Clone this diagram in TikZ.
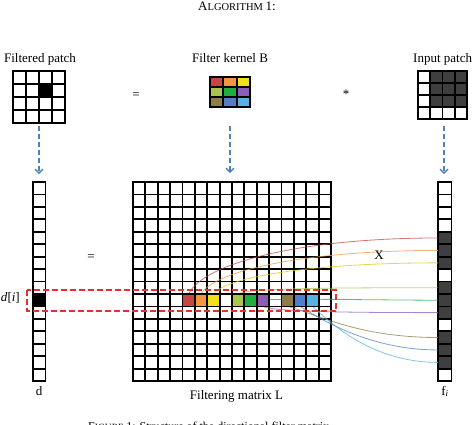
\documentclass[tikz,border=0pt]{standalone}
\usepackage{fontspec}
\setmainfont{Liberation Serif}
\usetikzlibrary{arrows.meta}
\definecolor{kred}{HTML}{C4483F}
\definecolor{korange}{HTML}{F4963F}
\definecolor{kyellow}{HTML}{F2E01A}
\definecolor{kyg}{HTML}{A9C64A}
\definecolor{kgreen}{HTML}{22AE3C}
\definecolor{kpurple}{HTML}{8E5DB8}
\definecolor{kolive}{HTML}{8E7E44}
\definecolor{kblue}{HTML}{4F7FCB}
\definecolor{klblue}{HTML}{52B2E2}
\definecolor{arrblue}{HTML}{4F81BD}
\definecolor{dashred}{HTML}{E3312B}
\definecolor{darkcell}{HTML}{3F3F3F}
\begin{document}
\begin{tikzpicture}[x=1pt,y=-1pt,
  cell/.style={draw=black, line width=1.8pt, inner sep=0pt, outer sep=0pt, rectangle},
  lbl/.style={font=\fontsize{13}{14}\selectfont, inner sep=0pt},
  arr/.style={draw=arrblue, line width=1.4pt, dash pattern=on 5pt off 3pt, -{Straight Barb[length=4pt,width=8pt]}},
  lk/.style={line width=0.8pt, opacity=0.75},
  reddash/.style={draw=dashred, line width=2pt, dash pattern=on 6pt off 3pt}]
\useasboundingbox (0,0) rectangle (474,424);

% title
\node[anchor=base, inner sep=0pt] (title) at (237,10) {\fontsize{13}{13}\selectfont A\fontsize{10.5}{11}\selectfont LGORITHM \fontsize{13}{13}\selectfont 1:};

% labels top
\node[lbl, anchor=base] (lfp) at (40,62.5) {Filtered patch};
\node[lbl, anchor=base] (lfk) at (230,62.5) {Filter kernel B};
\node[lbl, anchor=base west] (lip) at (413,62.5) {Input patch};
\node[lbl] (eq1) at (136,96) {=};
\node[lbl] (star) at (346,94) {*};

% filtered patch
\foreach \r in {0,...,3}{\foreach \c in {0,...,3}{
  \ifnum\r=1 \ifnum\c=2 \def\fc{black}\else\def\fc{white}\fi\else\def\fc{white}\fi
  \node[cell, fill=\fc, minimum width=13pt, minimum height=13pt] (fp-\r-\c) at ({19.5+13*\c},{77.5+13*\r}) {};
}}

% kernel
\foreach \r/\c/\col in {0/0/kred,0/1/korange,0/2/kyellow,1/0/kyg,1/1/kgreen,1/2/kpurple,2/0/kolive,2/1/kblue,2/2/klblue}{
  \node[cell, fill=\col, minimum width=13.33pt, minimum height=10pt] (kb-\r-\c) at ({216.67+13.33*\c},{82+10*\r}) {};
}

% input patch
\foreach \r in {0,...,3}{\foreach \c in {0,...,3}{
  \def\fc{white}
  \ifnum\c>0 \ifnum\r<3 \def\fc{darkcell}\fi\fi
  \node[cell, fill=\fc, minimum width=12.25pt, minimum height=12pt] (ip-\r-\c) at ({424.1+12.25*\c},{77+12*\r}) {};
}}

% arrows
\coordinate (a1s) at (39,126); \coordinate (a1e) at (39,174);
\coordinate (a2s) at (230,126); \coordinate (a2e) at (230,173);
\coordinate (a3s) at (444,126); \coordinate (a3e) at (444,174);
\draw[arr] (a1s) -- (a1e);
\draw[arr] (a2s) -- (a2e);
\draw[arr] (a3s) -- (a3e);

% vector d
\foreach \r in {0,...,15}{
  \ifnum\r=9 \def\fc{black}\else\def\fc{white}\fi
  \node[cell, fill=\fc, minimum width=12.5pt, minimum height=12.44pt] (d-\r) at (39.25,{188.22+12.44*\r}) {};
}

% matrix L
\foreach \r in {0,...,15}{\foreach \c in {0,...,15}{
  \node[cell, minimum width=12.375pt, minimum height=12.44pt] (L-\r-\c) at ({139.19+12.375*\c},{188.22+12.44*\r}) {};
}}

% vector f
\foreach \r in {0,...,15}{
  \pgfmathtruncatemacro\m{mod(\r,4)}
  \def\fc{white}
  \ifnum\r>3 \ifnum\m<3 \def\fc{darkcell}\fi\fi
  \node[cell, fill=\fc, minimum width=13.5pt, minimum height=12.44pt] (f-\r) at (444.75,{188.22+12.44*\r}) {};
}

% connecting curves
\draw[lk, kred] (L-9-4.north) .. controls +(14,-30) and +(-140,0) .. (f-4.west);
\draw[lk, korange] (L-9-5.north) .. controls +(14,-24) and +(-130,0) .. (f-5.west);
\draw[lk, kyellow!90!black] (L-9-6.north) .. controls +(14,-18) and +(-120,0) .. (f-6.west);
\draw[lk, kyg] (L-9-8.north) .. controls +(10,-6) and +(-100,0) .. (f-8.west);
\draw[lk, kgreen] (L-9-9.center) .. controls +(40,-2) and +(-60,0) .. (f-9.west);
\draw[lk, kpurple] (L-9-10.south) .. controls +(10,5) and +(-100,0) .. (f-10.west);
\draw[lk, kolive] (L-9-12.south) .. controls +(30,8) and +(-80,0) .. (f-12.west);
\draw[lk, kblue] (L-9-13.south) .. controls +(20,12) and +(-70,0) .. (f-13.west);
\draw[lk, klblue] (L-9-14.south) .. controls +(14,12) and +(-70,0) .. (f-14.west);

% coloured row cells
\foreach \c/\col in {4/kred,5/korange,6/kyellow,8/kyg,9/kgreen,10/kpurple,12/kolive,13/kblue,14/klblue}{
  \node[cell, fill=\col, minimum width=12.375pt, minimum height=12.44pt] (kc-\c) at ({139.19+12.375*\c},{188.22+12.44*9}) {};
}

% selection rectangle
\draw[reddash] (27,289.5) rectangle (336,311);

% lower labels
\node[lbl] (eq2) at (91,258) {=};
\node[lbl, anchor=east] (ldi) at (20,298) {\textit{d}[\textit{i}]};
\node[lbl, anchor=base] (ld) at (39,395) {d};
\node[lbl, anchor=base] (lf) at (445,395) {f\textsubscript{\textit{i}}};
\node[lbl, anchor=base] (lL) at (236.5,399) {Filtering matrix L};
\node[lbl] (lx) at (379,255) {X};

% caption (cut off by the page edge, as in the reference)
\node[anchor=base west, inner sep=0pt] (cap) at (88,430.5) {\fontsize{12}{13}\selectfont F\fontsize{9.5}{10}\selectfont IGURE \fontsize{12}{13}\selectfont 1: Structure of the directional filter matrix.};
\end{tikzpicture}
\end{document}
